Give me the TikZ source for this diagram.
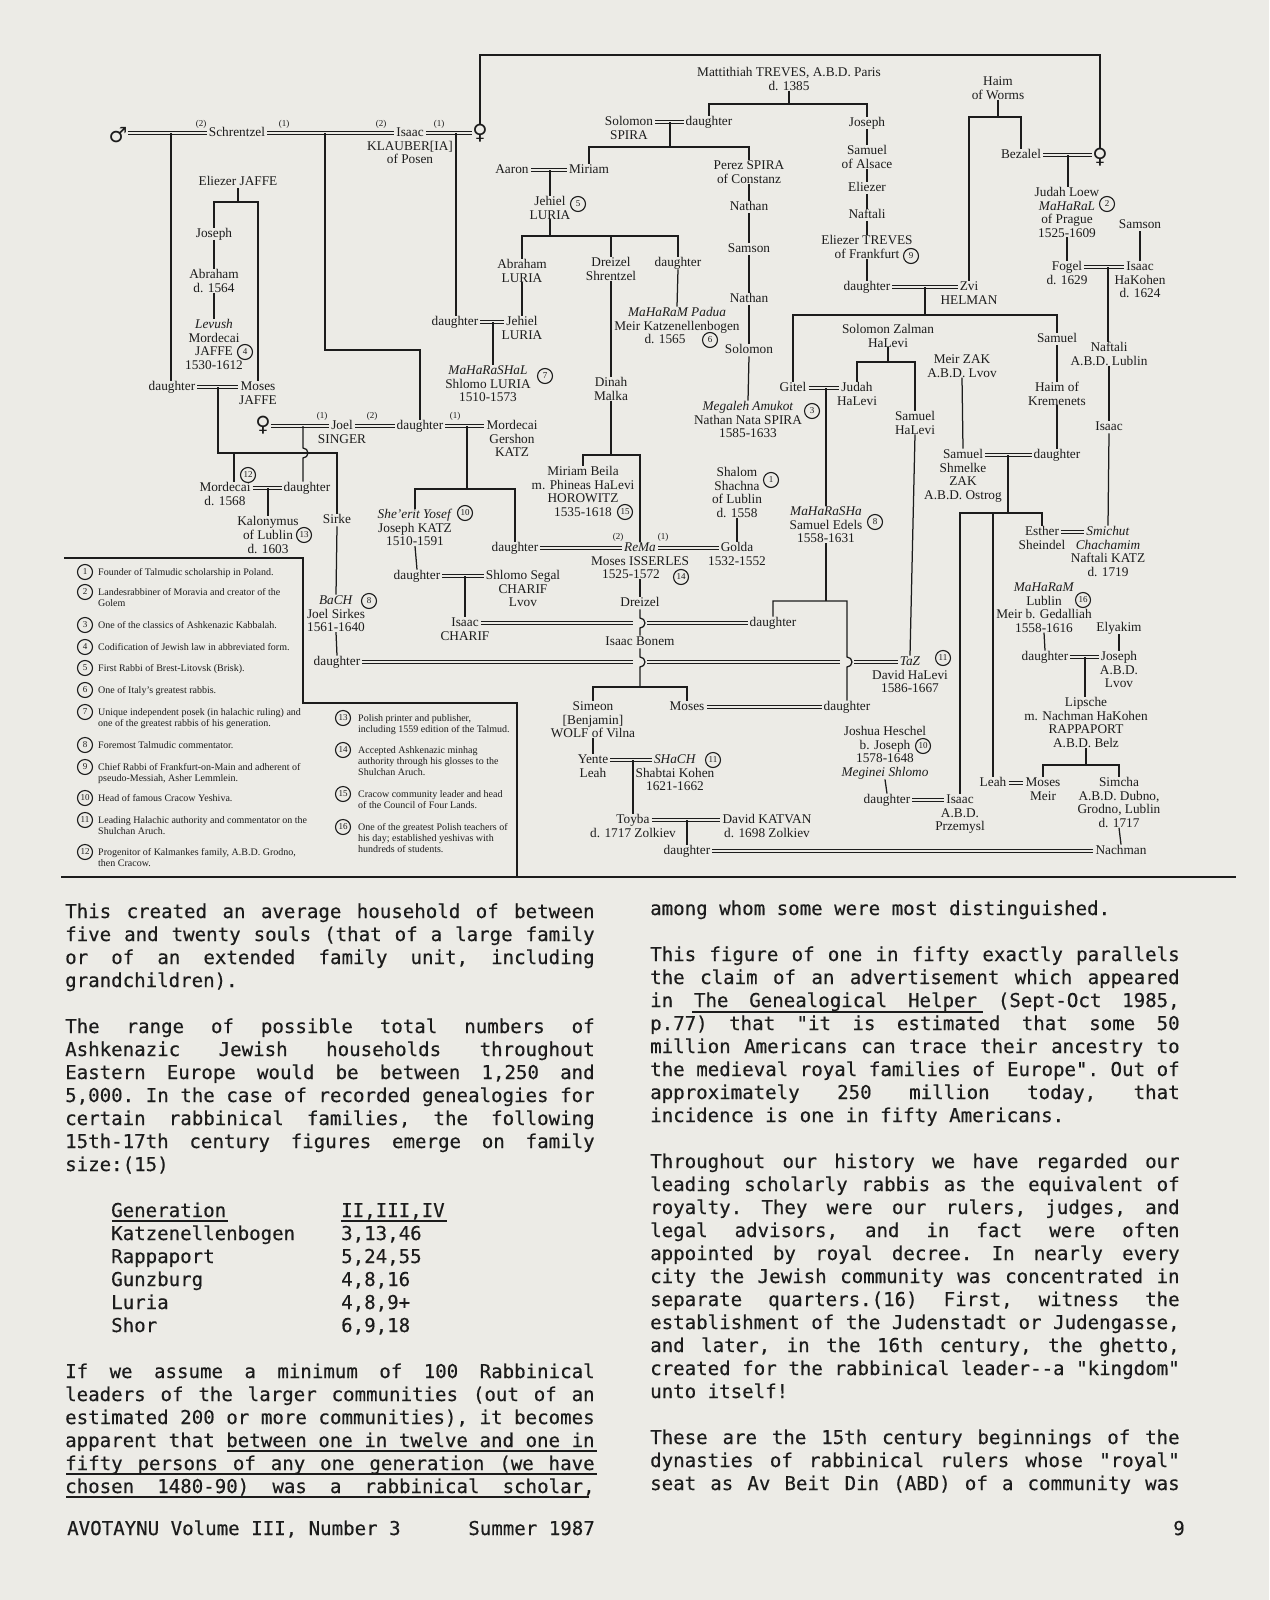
\documentclass[tikz,border=0pt]{standalone}
\usepackage{fontspec}
\setmainfont{Liberation Serif}
\newfontfamily\monof{DejaVu Sans Mono}[FakeBold=0.35]
\newfontfamily\symf{DejaVu Sans}
\usetikzlibrary{calc}
\definecolor{paper}{HTML}{ECEBE6}
\definecolor{ink}{HTML}{1C1C1C}
\newlength\colw
\setlength\colw{529.5pt}
\newcommand\jl[1]{\hbox to \colw{\frenchspacing\spaceskip=0.6021em plus 1fil\relax #1}}
\newcommand\treefont{\fontsize{13.3}{13.5}\selectfont}
\newcommand\pn[4]{\node[tn] (#1) at (#2,#3) {#4};}
\newcommand\pq[5]{\node[tn] (#1) at (#2,#3) {#4};\node[tr] (#1r) at (#1.south) {\rule{0pt}{9pt}#5};}
\tikzset{
  tn/.style={inner xsep=2pt, inner ysep=0pt, text height=9.5pt, text depth=3pt, font=\treefont, text=ink},
  tr/.style={anchor=north, inner sep=0pt, align=center, font=\treefont, text=ink, yshift=-1.5pt},
  sym/.style={inner sep=0pt, font=\symf\fontsize{21}{21}\selectfont, text=ink},
  cn/.style={circle, draw=ink, line width=1.1pt, minimum size=15pt, inner sep=0pt, font=\fontsize{9}{9}\selectfont, text=ink},
  lab/.style={inner sep=0pt, font=\fontsize{9}{9}\selectfont, text=ink},
  lg/.style={inner sep=0pt, anchor=base west, font=\fontsize{10}{11}\selectfont, text=ink},
  mt/.style={inner sep=0pt, anchor=base west, font=\monof\fontsize{19.1}{23}\selectfont, text=ink},
  ln/.style={draw=ink, line width=1.25pt},
  mr/.style={draw=ink, line width=1.05pt, double=paper, double distance=1.5pt},
  ul/.style={draw=ink, line width=1.1pt},
  rule/.style={draw=ink, line width=2.6pt}
}
\begin{document}
\begin{tikzpicture}[x=1pt,y=-1pt]
\fill[paper] (0,0) rectangle (1269,1600);
\useasboundingbox (0,0) rectangle (1269,1600);

% ================= TREE NODES =================
\node[sym] (male) at (118,135) {♂};
\pn{schr}{237}{133}{Schrentzel}
\pq{isaacK}{410}{133}{Isaac}{KLAUBER[IA]\\of Posen}
\node[sym] (fem1) at (480,133) {♀};
\node[lab] (lb1) at (201,124) {(2)};
\node[lab] (lb2) at (284,124) {(1)};
\node[lab] (lb3) at (381,124) {(2)};
\node[lab] (lb4) at (439,124) {(1)};

\pn{eliJ}{238}{182}{Eliezer JAFFE}
\pn{josJ}{214}{234}{Joseph}
\pq{abrJ}{214}{275}{Abraham}{d. 1564}
\pq{levJ}{214}{325}{\textit{Levush}}{Mordecai\\JAFFE\hspace*{10pt}\\1530-1612}
\node[cn] (c4) at (245,352) {4};
\pn{dJ}{172}{387}{daughter}
\pq{mosJ}{258}{387}{Moses}{JAFFE}

\node[sym] (fem3) at (263,425) {♀};
\pq{joel}{342}{426}{Joel}{SINGER}
\pn{dM}{420}{426}{daughter}
\pq{mordK}{512}{426}{Mordecai}{Gershon\\KATZ}
\node[lab] (lb5) at (322,416) {(1)};
\node[lab] (lb6) at (372,416) {(2)};
\node[lab] (lb7) at (455,416) {(1)};
\pq{mord12}{225}{488}{Mordecai}{d. 1568}
\node[cn] (c12) at (248,475) {12};
\pn{dS}{307}{488}{daughter}
\pq{kal}{268}{522}{Kalonymus}{of Lublin\\d. 1603}
\node[cn] (c13) at (304,535) {13};
\pn{sirke}{337}{520}{Sirke}
\pq{bach}{336}{601}{\textit{BaCH}}{Joel Sirkes\\1561-1640}
\node[cn] (c8) at (369,601) {8};
\pn{dB}{337}{662}{daughter}

\pq{sher}{415}{515}{\textit{She'erit Yosef}}{Joseph KATZ\\1510-1591}
\node[cn] (c10) at (465,513) {10};
\pn{dR}{515}{548}{daughter}
\pn{dC}{417}{576}{daughter}
\pq{shlomo}{523}{576}{Shlomo Segal}{CHARIF\\Lvov}
\pq{isaacC}{465}{623}{Isaac}{CHARIF}

\pq{rema}{640}{548}{\textit{ReMa}}{Moses ISSERLES\\1525-1572\hspace*{18pt}}
\node[cn] (c14) at (681,577) {14};
\node[lab] (lb8) at (618,537) {(2)};
\node[lab] (lb9) at (663,537) {(1)};
\pq{golda}{737}{548}{Golda}{1532-1552}
\pq{shalom}{737}{473}{Shalom}{Shachna\\of Lublin\\d. 1558}
\node[cn] (c1) at (771,480) {1};
\pn{dreiz}{640}{603}{Dreizel}
\pn{isaacB}{640}{642}{Isaac Bonem}
\pq{simeon}{593}{707}{Simeon}{[Benjamin]\\WOLF of Vilna}
\pn{mos2}{687}{707}{Moses}
\pn{dE}{847}{707}{daughter}
\pq{yente}{593}{760}{Yente}{Leah}
\pq{shach}{675}{760}{\textit{SHaCH}}{Shabtai Kohen\\1621-1662}
\node[cn] (c11) at (713,760) {11};
\pq{toyba}{633}{820}{Toyba}{d. 1717 Zolkiev}
\pq{davidK}{767}{820}{David KATVAN}{d. 1698 Zolkiev}
\pn{dN}{687}{851}{daughter}
\pn{nachman}{1121}{851}{Nachman}

\pq{matt}{789}{73}{Mattithiah TREVES, A.B.D. Paris}{d. 1385}
\pq{solS}{629}{122}{Solomon}{SPIRA}
\pn{dS2}{709}{122}{daughter}
\pn{aaron}{512}{170}{Aaron}
\pn{miriam}{589}{170}{Miriam}
\pq{jeh5}{550}{202}{Jehiel}{LURIA}
\node[cn] (c5) at (578,204) {5};
\pq{abrL}{522}{265}{Abraham}{LURIA}
\pq{drS}{611}{263}{Dreizel}{Shrentzel}
\pn{dP}{678}{263}{daughter}
\pn{dL}{455}{322}{daughter}
\pq{jehL}{522}{322}{Jehiel}{LURIA}
\pq{mahar}{488}{371}{\textit{MaHaRaSHaL}}{Shlomo LURIA\\1510-1573}
\node[cn] (c7) at (545,376) {7};
\pq{dinah}{611}{383}{Dinah}{Malka}
\pq{mirB}{583}{472}{Miriam Beila}{m. Phineas HaLevi\\HOROWITZ\\1535-1618}
\node[cn] (c15) at (625,512) {15};
\pq{maharamP}{677}{313}{\textit{MaHaRaM Padua}}{Meir Katzenellenbogen\\d. 1565\hspace*{24pt}}
\node[cn] (c6) at (710,340) {6};

\pq{perez}{749}{166}{Perez SPIRA}{of Constanz}
\pn{nat1}{749}{207}{Nathan}
\pn{sam1}{749}{249}{Samson}
\pn{nat2}{749}{299}{Nathan}
\pn{sol1}{749}{350}{Solomon}
\pq{meg}{748}{407}{\textit{Megaleh Amukot}}{Nathan Nata SPIRA\\1585-1633}
\node[cn] (c3) at (812,411) {3};

\pn{josT}{867}{123}{Joseph}
\pq{samA}{867}{151}{Samuel}{of Alsace}
\pn{eli1}{867}{188}{Eliezer}
\pn{naf1}{867}{215}{Naftali}
\pq{eliT}{867}{241}{Eliezer TREVES}{of Frankfurt}
\node[cn] (c9) at (911,256) {9};
\pn{dZ}{867}{287}{daughter}
\pq{zvi}{969}{287}{Zvi}{HELMAN}
\pq{haim}{998}{82}{Haim}{of Worms}
\pn{bez}{1021}{155}{Bezalel}
\node[sym] (fem2) at (1100,157) {♀};
\pq{judah}{1067}{193}{Judah Loew}{\textit{MaHaRaL}\\of Prague\\1525-1609}
\node[cn] (c2) at (1107,204) {2};
\pq{fogel}{1067}{267}{Fogel}{d. 1629}
\pn{sam2}{1140}{225}{Samson}
\pq{isaacH}{1140}{267}{Isaac}{HaKohen\\d. 1624}
\pq{nafL}{1109}{348}{Naftali}{A.B.D. Lublin}
\pn{isaacN}{1109}{427}{Isaac}
\pq{smi}{1108}{532}{\textit{Smichut}}{\textit{Chachamim}\\Naftali KATZ\\d. 1719}

\pn{gitel}{793}{388}{Gitel}
\pn{samH}{1057}{339}{Samuel}
\pq{haimK}{1057}{388}{Haim of}{Kremenets}
\pn{dK}{1057}{455}{daughter}
\pq{solZ}{888}{330}{Solomon Zalman}{HaLevi}
\pq{judH}{857}{388}{Judah}{HaLevi}
\pq{samHL}{915}{417}{Samuel}{HaLevi}
\pq{mahasha}{826}{512}{\textit{MaHaRaSHa}}{Samuel Edels\\1558-1631}
\node[cn] (c8b) at (875,522) {8};
\pn{dD}{773}{623}{daughter}
\pq{taz}{910}{662}{\textit{TaZ}}{David HaLevi\\1586-1667}
\node[cn] (c11b) at (943,658) {11};
\pq{meirZ}{962}{360}{Meir ZAK}{A.B.D. Lvov}
\pq{samZ}{963}{455}{Samuel}{Shmelke\\ZAK\\A.B.D. Ostrog}
\pq{esther}{1042}{532}{Esther}{Sheindel}
\pq{maharamL}{1044}{588}{\textit{MaHaRaM}}{Lublin\\Meir b. Gedalliah\\1558-1616}
\node[cn] (c16) at (1083,600) {16};
\pn{dG}{1045}{657}{daughter}
\pn{ely}{1119}{628}{Elyakim}
\pq{josL}{1119}{657}{Joseph}{A.B.D.\\Lvov}
\pq{lip}{1086}{703}{Lipsche}{m. Nachman HaKohen\\RAPPAPORT\\A.B.D. Belz}
\pn{leah}{993}{783}{Leah}
\pq{mosM}{1043}{783}{Moses}{Meir}
\pq{sim}{1119}{783}{Simcha}{A.B.D. Dubno,\\Grodno, Lublin\\d. 1717}
\pq{josh}{885}{732}{Joshua Heschel}{b. Joseph\\1578-1648\\\textit{Meginei Shlomo}}
\node[cn] (c10b) at (923,746) {10};
\pn{dJH}{887}{800}{daughter}
\pq{isaacP}{960}{800}{Isaac}{A.B.D.\\Przemysl}

% ================= COORDINATES =================
\coordinate (topl) at (0,55);
\coordinate (m1) at (171,133);
\coordinate (m2) at (325,133);
\coordinate (k2) at (325,350);
\coordinate (m3) at (456,133);
\coordinate (bJ) at (238,202);
\coordinate (m4) at (218,387);
\coordinate (hz) at (337,453);
\coordinate (d12) at (234,453);
\coordinate (h0) at (303,453);
\coordinate (m5) at (303,426);
\coordinate (m6) at (268,488);
\coordinate (m7) at (467,426);
\coordinate (b7) at (467,489);
\coordinate (m8) at (465,576);
\coordinate (h1) at (640,623);
\coordinate (h3) at (640,662);
\coordinate (h2) at (847,662);
\coordinate (b9) at (640,687);
\coordinate (m9) at (633,760);
\coordinate (m10) at (687,820);
\coordinate (b10) at (789,104);
\coordinate (m11) at (670,122);
\coordinate (b11) at (670,147);
\coordinate (m12) at (550,170);
\coordinate (b12) at (550,236);
\coordinate (m13) at (493,322);
\coordinate (b13) at (611,455);
\coordinate (b14) at (998,117);
\coordinate (m15) at (1068,155);
\coordinate (m16) at (1108,267);
\coordinate (m17) at (925,287);
\coordinate (b17) at (925,315);
\coordinate (b18) at (888,362);
\coordinate (m19) at (826,388);
\coordinate (b19) at (826,601);
\coordinate (m20) at (1008,455);
\coordinate (b20) at (1008,513);
\coordinate (m21) at (1085,657);
\coordinate (b21) at (1086,765);

% ================= CONNECTORS =================
\draw[mr] (male.east |- schr.west) -- (schr.west);
\draw[mr] (schr.east) -- (isaacK.west);
\draw[mr] (isaacK.east) -- (isaacK.east -| fem1.west);
\draw[ln] (m1) -- (m1 |- dJ.north);
\draw[ln] (m2) -- (k2) -| (dM.north);
\draw[ln] (m3) -- (m3 |- dL.north);
\draw[ln] (fem1.north) |- (fem2.north |- topl) -- (fem2.north);

\draw[ln] (eliJ.south) -- (bJ);
\draw[ln] (josJ.north) |- (bJ) -| (mosJ.north);
\draw[ln] (josJ.south) -- (abrJ.north);
\draw[ln] (abrJr.south) -- (levJ.north);
\draw[mr] (dJ.east) -- (mosJ.west);
\draw[ln] (m4) |- (hz) -- (sirke.north);
\draw[ln] (d12) -- (d12 |- mord12.north);

\draw[mr] (fem3.east |- joel.west) -- (joel.west);
\draw[mr] (joel.east) -- (dM.west);
\draw[mr] (dM.east) -- (mordK.west);
\draw[ln] (m5) -- ([yshift=5pt]h0) arc (90:-90:5pt) -- (m5 |- dS.north);
\draw[mr] (mord12.east) -- (dS.west);
\draw[ln] (m6) -- (m6 |- kal.north);
\draw[ln] (sirke.south) -- (bach.north);
\draw[ln] (bachr.south) -- (dB.north);

\draw[ln] (m7) -- (b7);
\draw[ln] (sher.north) |- (b7) -| (dR.north);
\draw[ln] (sherr.south) -- (dC.north);
\draw[mr] (dC.east) -- (shlomo.west);
\draw[ln] (m8) -- (m8 |- isaacC.north);
\draw[mr] (isaacC.east) -- ([xshift=-7pt]h1);
\draw[mr] ([xshift=7pt]h1) -- (dD.west);
\draw[mr] (dR.east) -- (rema.west);
\draw[mr] (rema.east) -- (golda.west);
\draw[ln] (shalomr.south) -- (golda.north);
\draw[ln] (remar.south) -- (dreiz.north);
\draw[ln] (dreiz.south) -- ([yshift=5pt]h1) arc (90:-90:5pt) -- (isaacB.north);
\draw[ln] (isaacB.south) -- ([yshift=5pt]h3) arc (90:-90:5pt) -- (b9);
\draw[ln] (simeon.north) |- (b9) -| (mos2.north);
\draw[mr] (mos2.east) -- (dE.west);
\draw[ln] (simeonr.south) -- (yente.north);
\draw[mr] (yente.east) -- (shach.west);
\draw[ln] (m9) -- (m9 |- toyba.north);
\draw[mr] (toyba.east) -- (davidK.west);
\draw[ln] (m10) -- (m10 |- dN.north);
\draw[mr] (dN.east) -- (nachman.west);
\draw[mr] (dB.east) -- ([xshift=-7pt]h3);
\draw[mr] ([xshift=7pt]h3) -- ([xshift=-7pt]h2);
\draw[mr] ([xshift=7pt]h2) -- (taz.west);

\draw[ln] (mattr.south) -- (b10);
\draw[ln] (dS2.north) |- (b10) -| (josT.north);
\draw[mr] (solS.east) -- (dS2.west);
\draw[ln] (m11) -- (b11);
\draw[ln] (miriam.north) |- (b11) -| (perez.north);
\draw[mr] (aaron.east) -- (miriam.west);
\draw[ln] (m12) -- (m12 |- jeh5.north);
\draw[ln] (jeh5r.south) -- (b12);
\draw[ln] (abrL.north) |- (b12) -| (dP.north);
\draw[ln] (drS.north) -- (drS.north |- b12);
\draw[ln] (abrLr.south) -- (jehL.north);
\draw[mr] (dL.east) -- (jehL.west);
\draw[ln] (m13) -- (m13 |- mahar.north);
\draw[ln] (drSr.south) -- (dinah.north);
\draw[ln] (dinahr.south) -- (b13);
\draw[ln] (mirB.north) |- (b13) -| (rema.north);
\draw[ln] (dP.south) -- (maharamP.north);

\draw[ln] (perezr.south) -- (nat1.north);
\draw[ln] (nat1.south) -- (sam1.north);
\draw[ln] (sam1.south) -- (nat2.north);
\draw[ln] (nat2.south) -- (sol1.north);
\draw[ln] (sol1.south) -- (meg.north);
\draw[ln] (josT.south) -- (samA.north);
\draw[ln] (samAr.south) -- (eli1.north);
\draw[ln] (eli1.south) -- (naf1.north);
\draw[ln] (naf1.south) -- (eliT.north);
\draw[ln] (eliTr.south) -- (dZ.north);
\draw[mr] (dZ.east) -- (zvi.west);
\draw[ln] (haimr.south) -- (b14);
\draw[ln] (zvi.north) |- (b14) -| (bez.north);
\draw[mr] (bez.east) -- (bez.east -| fem2.west);
\draw[ln] (m15) -- (m15 |- judah.north);
\draw[ln] (judahr.south) -- (fogel.north);
\draw[ln] (sam2.south) -- (isaacH.north);
\draw[mr] (fogel.east) -- (isaacH.west);
\draw[ln] (m16) -- (m16 |- nafL.north);
\draw[ln] (nafLr.south) -- (isaacN.north);
\draw[ln] (isaacN.south) -- (smi.north);

\draw[ln] (m17) -- (b17);
\draw[ln] (gitel.north) |- (b17) -| (samH.north);
\draw[ln] (samH.south) -- (haimK.north);
\draw[ln] (haimKr.south) -- (dK.north);
\draw[ln] (solZr.south) -- (b18);
\draw[ln] (judH.north) |- (b18) -| (samHL.north);
\draw[mr] (gitel.east) -- (judH.west);
\draw[ln] (m19) -- (m19 |- mahasha.north);
\draw[ln] (mahashar.south) -- (b19);
\draw[ln] (dD.north) |- (b19) -| ([yshift=5pt]h2) arc (90:-90:5pt) -- (dE.north);
\draw[ln] (samHLr.south) -- (taz.north);
\draw[ln] (meirZr.south) -- (samZ.north);
\draw[mr] (samZ.east) -- (dK.west);
\draw[ln] (m20) -- (b20);
\draw[ln] (isaacP.north) |- (b20) -| (esther.north);
\draw[ln] (leah.north) -- (leah.north |- b20);
\draw[mr] (esther.east) -- (smi.west);
\draw[ln] (maharamLr.south) -- (dG.north);
\draw[ln] (ely.south) -- (josL.north);
\draw[mr] (dG.east) -- (josL.west);
\draw[ln] (m21) -- (m21 |- lip.north);
\draw[ln] (lipr.south) -- (b21);
\draw[ln] (mosM.north) |- (b21) -| (sim.north);
\draw[mr] (leah.east) -- (mosM.west);
\draw[ln] (simr.south) -- (nachman.north);
\draw[ln] (joshr.south) -- (dJH.north);
\draw[mr] (dJH.east) -- (isaacP.west);

% ================= LEGEND =================
\draw[ln] (64,558) -- (303,558) -- (303,703) -- (517,703) -- (517,877);
\node[cn] (lc1) at (85,572) {1};  \node[lg] (lt1) at (98,575) {Founder of Talmudic scholarship in Poland.};
\node[cn] (lc2) at (85,592) {2};  \node[lg] (lt2) at (98,595) {Landesrabbiner of Moravia and creator of the};
\node[lg] (lt2b) at (98,606) {Golem};
\node[cn] (lc3) at (85,625) {3};  \node[lg] (lt3) at (98,628) {One of the classics of Ashkenazic Kabbalah.};
\node[cn] (lc4) at (85,647) {4};  \node[lg] (lt4) at (98,650) {Codification of Jewish law in abbreviated form.};
\node[cn] (lc5) at (85,668) {5};  \node[lg] (lt5) at (98,671) {First Rabbi of Brest-Litovsk (Brisk).};
\node[cn] (lc6) at (85,690) {6};  \node[lg] (lt6) at (98,693) {One of Italy's greatest rabbis.};
\node[cn] (lc7) at (85,712) {7};  \node[lg] (lt7) at (98,715) {Unique independent posek (in halachic ruling) and};
\node[lg] (lt7b) at (98,726) {one of the greatest rabbis of his generation.};
\node[cn] (lc8) at (85,745) {8};  \node[lg] (lt8) at (98,748) {Foremost Talmudic commentator.};
\node[cn] (lc9) at (85,767) {9};  \node[lg] (lt9) at (98,770) {Chief Rabbi of Frankfurt-on-Main and adherent of};
\node[lg] (lt9b) at (98,781) {pseudo-Messiah, Asher Lemmlein.};
\node[cn] (lc10) at (85,798) {10}; \node[lg] (lt10) at (98,801) {Head of famous Cracow Yeshiva.};
\node[cn] (lc11) at (85,820) {11}; \node[lg] (lt11) at (98,823) {Leading Halachic authority and commentator on the};
\node[lg] (lt11b) at (98,834) {Shulchan Aruch.};
\node[cn] (lc12) at (85,852) {12}; \node[lg] (lt12) at (98,855) {Progenitor of Kalmankes family, A.B.D. Grodno,};
\node[lg] (lt12b) at (98,866) {then Cracow.};
\node[cn] (lc13) at (343,718) {13}; \node[lg] (lt13) at (358,721) {Polish printer and publisher,};
\node[lg] (lt13b) at (358,732) {including 1559 edition of the Talmud.};
\node[cn] (lc14) at (343,750) {14}; \node[lg] (lt14) at (358,753) {Accepted Ashkenazic minhag};
\node[lg] (lt14b) at (358,764) {authority through his glosses to the};
\node[lg] (lt14c) at (358,775) {Shulchan Aruch.};
\node[cn] (lc15) at (343,794) {15}; \node[lg] (lt15) at (358,797) {Cracow community leader and head};
\node[lg] (lt15b) at (358,808) {of the Council of Four Lands.};
\node[cn] (lc16) at (343,827) {16}; \node[lg] (lt16) at (358,830) {One of the greatest Polish teachers of};
\node[lg] (lt16b) at (358,841) {his day; established yeshivas with};
\node[lg] (lt16c) at (358,852) {hundreds of students.};

\draw[rule] (61,877) -- (1236,877);

% ================= LEFT COLUMN =================
\node[mt] (L0) at (65,918) {\jl{This created an average household of between}};
\node[mt] (L1) at (65,941) {\jl{five and twenty souls (that of a large family}};
\node[mt] (L2) at (65,964) {\jl{or of an extended family unit, including}};
\node[mt] (L3) at (65,987) {grandchildren).};
\node[mt] (L5) at (65,1033) {\jl{The range of possible total numbers of}};
\node[mt] (L6) at (65,1056) {\jl{Ashkenazic Jewish households throughout}};
\node[mt] (L7) at (65,1079) {\jl{Eastern Europe would be between 1,250 and}};
\node[mt] (L8) at (65,1102) {\jl{5,000. In the case of recorded genealogies for}};
\node[mt] (L9) at (65,1125) {\jl{certain rabbinical families, the following}};
\node[mt] (L10) at (65,1148) {\jl{15th-17th century figures emerge on family}};
\node[mt] (L11) at (65,1171) {size:(15)};
\node[mt] (T13a) at (111,1217) {Generation};
\node[mt] (T13b) at (341,1217) {II,III,IV};
\node[mt] (T14a) at (111,1240) {Katzenellenbogen};
\node[mt] (T14b) at (341,1240) {3,13,46};
\node[mt] (T15a) at (111,1263) {Rappaport};
\node[mt] (T15b) at (341,1263) {5,24,55};
\node[mt] (T16a) at (111,1286) {Gunzburg};
\node[mt] (T16b) at (341,1286) {4,8,16};
\node[mt] (T17a) at (111,1309) {Luria};
\node[mt] (T17b) at (341,1309) {4,8,9+};
\node[mt] (T18a) at (111,1332) {Shor};
\node[mt] (T18b) at (341,1332) {6,9,18};
\draw[ul] (112,1221) -- (228,1221);
\draw[ul] (341,1221) -- (447,1221);
\node[mt] (L20) at (65,1378) {\jl{If we assume a minimum of 100 Rabbinical}};
\node[mt] (L21) at (65,1401) {\jl{leaders of the larger communities (out of an}};
\node[mt] (L22) at (65,1424) {\jl{estimated 200 or more communities), it becomes}};
\node[mt] (L23) at (65,1447) {\jl{apparent that between one in twelve and one in}};
\node[mt] (L24) at (65,1470) {\jl{fifty persons of any one generation (we have}};
\node[mt] (L25) at (65,1493) {\jl{chosen 1480-90) was a rabbinical scholar,}};
\draw[ul] (227,1451) -- (597,1451);
\draw[ul] (66,1474) -- (597,1474);
\draw[ul] (66,1497) -- (589,1497);
\node[mt] (F1) at (67,1535) {AVOTAYNU Volume III, Number 3};
\node[mt, anchor=base east] (F2) at (595,1535) {Summer 1987};

% ================= RIGHT COLUMN =================
\node[mt] (R0) at (650,915) {among whom some were most distinguished.};
\node[mt] (R2) at (650,961) {\jl{This figure of one in fifty exactly parallels}};
\node[mt] (R3) at (650,984) {\jl{the claim of an advertisement which appeared}};
\node[mt] (R4) at (650,1007) {\jl{in The Genealogical Helper (Sept-Oct 1985,}};
\draw[ul] (692,1012) -- (983,1012);
\node[mt] (R5) at (650,1030) {\jl{p.77) that "it is estimated that some 50}};
\node[mt] (R6) at (650,1053) {\jl{million Americans can trace their ancestry to}};
\node[mt] (R7) at (650,1076) {\jl{the medieval royal families of Europe". Out of}};
\node[mt] (R8) at (650,1099) {\jl{approximately 250 million today, that}};
\node[mt] (R9) at (650,1122) {incidence is one in fifty Americans.};
\node[mt] (R11) at (650,1168) {\jl{Throughout our history we have regarded our}};
\node[mt] (R12) at (650,1191) {\jl{leading scholarly rabbis as the equivalent of}};
\node[mt] (R13) at (650,1214) {\jl{royalty. They were our rulers, judges, and}};
\node[mt] (R14) at (650,1237) {\jl{legal advisors, and in fact were often}};
\node[mt] (R15) at (650,1260) {\jl{appointed by royal decree. In nearly every}};
\node[mt] (R16) at (650,1283) {\jl{city the Jewish community was concentrated in}};
\node[mt] (R17) at (650,1306) {\jl{separate quarters.(16) First, witness the}};
\node[mt] (R18) at (650,1329) {\jl{establishment of the Judenstadt or Judengasse,}};
\node[mt] (R19) at (650,1352) {\jl{and later, in the 16th century, the ghetto,}};
\node[mt] (R20) at (650,1375) {\jl{created for the rabbinical leader-{}-a "kingdom"}};
\node[mt] (R21) at (650,1398) {unto itself!};
\node[mt] (R23) at (650,1444) {\jl{These are the 15th century beginnings of the}};
\node[mt] (R24) at (650,1467) {\jl{dynasties of rabbinical rulers whose "royal"}};
\node[mt] (R25) at (650,1490) {\jl{seat as Av Beit Din (ABD) of a community was}};
\node[mt, anchor=base] (pg) at (1179,1535) {9};
\end{tikzpicture}
\end{document}
